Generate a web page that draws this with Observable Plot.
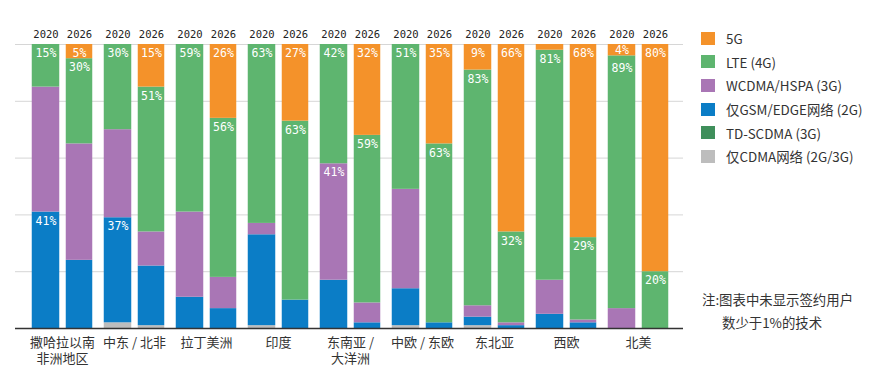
<!DOCTYPE html>
<html>
<head>
<meta charset="utf-8">
<script src="https://cdn.jsdelivr.net/npm/d3@7"></script>
<script src="https://cdn.jsdelivr.net/npm/@observablehq/plot@0.6"></script>
<style>
  body { margin: 0; background: #fff; }
  #chart { position: relative; width: 883px; height: 371px; overflow: hidden; }
  #chart svg { position: absolute; left: 0; top: 0; }
  .legend { position: absolute; left: 701px; top: 26.5px; font-family: "Noto Sans CJK SC", "Noto Sans", sans-serif; font-size: 13.4px; color: #333; }
  .legend .row { display: flex; align-items: center; height: 23.6px; }
  .legend .sw { width: 14px; height: 13px; margin-right: 11px; flex: none; }
  .note { position: absolute; left: 702px; top: 288px; font-family: "Noto Sans CJK SC", sans-serif; font-size: 13.4px; line-height: 23.4px; color: #333; white-space: nowrap; }
  .note .second { padding-left: 20px; }
</style>
</head>
<body>
<div id="chart"></div>
<script>
// Regions (x groups) and the two years shown for each
const regions = ["撒哈拉以南\n非洲地区", "中东 / 北非", "拉丁美洲", "印度", "东南亚 /\n大洋洲", "中欧 / 东欧", "东北亚", "西欧", "北美"];
const years = ["2020", "2026"];

// Technologies in stacking order, bottom to top
const technologies = ["仅CDMA网络 (2G/3G)", "TD-SCDMA (3G)", "仅GSM/EDGE网络 (2G)", "WCDMA/HSPA (3G)", "LTE (4G)", "5G"];
const techColors = ["#bdbdbd", "#3f8f5b", "#0b7dc6", "#a976b5", "#5eb56f", "#f4922a"];

// Subscription share (%) per technology, pairs of [2020, 2026] for each region in order
const shareCDMA  = [0, 0,   2, 1,   0, 0,   1, 0,   0, 0,   1, 0,   1, 0,   0, 0,   0, 0];
const shareTD    = [0, 0,   0, 0,   0, 0,   0, 0,   0, 0,   0, 0,   0, 0,   0, 0,   0, 0];
const shareGSM   = [41, 24, 37, 21, 11, 7,  32, 10, 17, 2,  13, 2,  3, 1,   5, 2,   0, 0];
const shareWCDMA = [44, 41, 31, 12, 30, 11, 4, 0,   41, 7,  35, 0,  4, 1,   12, 1,  7, 0];
const shareLTE   = [15, 30, 30, 51, 59, 56, 63, 63, 42, 59, 51, 63, 83, 32, 81, 29, 89, 20];
const share5G    = [0, 5,   0, 15,  0, 26,  0, 27,  0, 32,  0, 35,  9, 66,  2, 68,  4, 80];

// Which segments carry a percentage label (1 = labelled)
const labelGSM   = [1, 0,   1, 0,   0, 0,   0, 0,   0, 0,   0, 0,   0, 0,   0, 0,   0, 0];
const labelWCDMA = [0, 0,   0, 0,   0, 0,   0, 0,   1, 0,   0, 0,   0, 0,   0, 0,   0, 0];
const labelLTE   = [1, 1,   1, 1,   1, 1,   1, 1,   1, 1,   1, 1,   1, 1,   1, 1,   1, 1];
const label5G    = [0, 1,   0, 1,   0, 1,   0, 1,   0, 1,   0, 1,   1, 1,   0, 1,   1, 1];

const shares = [shareCDMA, shareTD, shareGSM, shareWCDMA, shareLTE, share5G];
const labels = [null, null, labelGSM, labelWCDMA, labelLTE, label5G];

const rows = [];
regions.forEach((region, i) => {
  years.forEach((year, j) => {
    const k = 2 * i + j;
    technologies.forEach((tech, t) => {
      const labelled = labels[t] ? labels[t][k] === 1 : false;
      // a labelled segment sitting just under a very thin labelled one
      const above = t + 1 < technologies.length ? t + 1 : -1;
      const crowded = above >= 0 && labels[above] && labels[above][k] === 1 && shares[above][k] < 5;
      const thin = shares[t][k] < 5;
      const place = thin ? "middle" : crowded ? "lower" : "top";
      rows.push({region, year, tech, value: shares[t][k], labelled, place});
    });
  });
});

// Placement of each year's bar inside its region band
const yearStyle = {
  "2020": {insetLeft: 5.75, insetRight: 38.75, dx: -16.5},
  "2026": {insetLeft: 39.75, insetRight: 5.75, dx: 17}
};

const labelText = (place) => (d) => (d.labelled && d.place === place ? `${d.value}%` : null);
const labelStyle = {fill: "white", fontSize: 11.5, fontFamily: "DejaVu Sans Mono", lineAnchor: "middle"};

const yearMarks = years.flatMap((year) => {
  const data = rows.filter((d) => d.year === year);
  const s = yearStyle[year];
  return [
    Plot.barY(data, {x: "region", y: "value", fill: "tech", insetLeft: s.insetLeft, insetRight: s.insetRight}),
    // value labels just below the top of their segment
    Plot.text(data, Plot.stackY2({x: "region", y: "value", z: "tech", text: labelText("top"), dx: s.dx, dy: 9, ...labelStyle})),
    Plot.text(data, Plot.stackY2({x: "region", y: "value", z: "tech", text: labelText("lower"), dx: s.dx, dy: 12.5, ...labelStyle})),
    // thin segments: label centred in the segment
    Plot.text(data, Plot.stackY({x: "region", y: "value", z: "tech", text: labelText("middle"), dx: s.dx, ...labelStyle})),
    // year above each bar
    Plot.text(regions, {
      x: (r) => r, y: () => 100, text: () => year,
      dx: s.dx, dy: -9.5, fill: "#222", fontSize: 10.5,
      fontFamily: "DejaVu Sans Mono", lineAnchor: "middle"
    })
  ];
});

const chart = Plot.plot({
  width: 883,
  height: 371,
  marginTop: 44,
  marginBottom: 43,
  marginLeft: 15,
  marginRight: 200,
  style: {fontFamily: "Noto Sans CJK SC", background: "white"},
  x: {domain: regions, padding: 0, insetLeft: 8.25, insetRight: 7.25, axis: null},
  y: {domain: [0, 100], axis: null},
  color: {domain: technologies, range: techColors},
  marks: [
    Plot.ruleY([20, 40, 60, 80, 100], {stroke: "#d6d6d6", strokeWidth: 1}),
    ...yearMarks,
    Plot.ruleY([0], {stroke: "#333", strokeWidth: 1.5}),
    Plot.axisX({
      anchor: "bottom", tickSize: 0, tickPadding: 7, fontSize: 13,
      lineHeight: 1.22, fill: "#333", fontFamily: "Noto Sans CJK SC", label: null
    })
  ]
});

const root = document.getElementById("chart");
root.appendChild(chart);

// Legend, top to bottom: 5G first
const legend = document.createElement("div");
legend.className = "legend";
[...technologies].reverse().forEach((tech) => {
  const row = document.createElement("div");
  row.className = "row";
  const sw = document.createElement("span");
  sw.className = "sw";
  sw.style.background = techColors[technologies.indexOf(tech)];
  const label = document.createElement("span");
  label.textContent = tech;
  row.append(sw, label);
  legend.appendChild(row);
});
root.appendChild(legend);

const note = document.createElement("div");
note.className = "note";
const line1 = document.createElement("div");
line1.textContent = "注:图表中未显示签约用户";
const line2 = document.createElement("div");
line2.className = "second";
line2.textContent = "数少于1%的技术";
note.append(line1, line2);
root.appendChild(note);
</script>
</body>
</html>
